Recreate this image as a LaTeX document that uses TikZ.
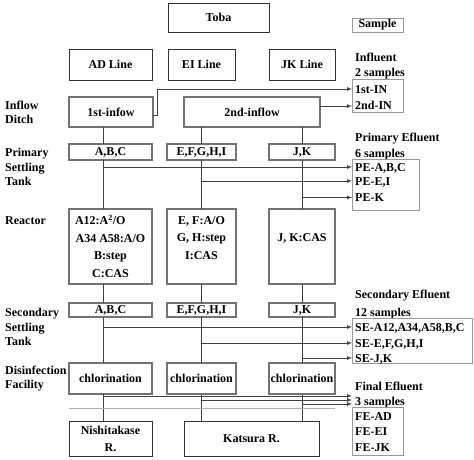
\documentclass[tikz,border=0pt]{standalone}
\usepackage{fontspec}
\setmainfont{Liberation Serif}
\begin{document}
\begin{tikzpicture}[x=1pt,y=-1pt,
  every node/.style={font=\bfseries\fontsize{12}{14.5}\selectfont},
  plain/.style={draw=black!80, line width=0.8pt, inner sep=1pt},
  heavy/.style={draw=black!85, double=black!55, double distance=1.4pt, line width=0.7pt, inner sep=1pt},
  smpbox/.style={draw=black!40, line width=0.6pt, inner sep=0pt},
  lbl/.style={anchor=west, align=left, inner sep=3pt},
  smp/.style={anchor=west, inner sep=3pt, text height=8pt, text depth=0pt},
  link/.style={draw=black!75, line width=0.7pt},
  feed/.style={link, -latex}]
 \useasboundingbox (0,0) rectangle (474,460);
 \coordinate (colA) at (103,0);
 \node[plain, minimum width=101pt, minimum height=29pt] (toba) at (218.5,17.5) {Toba};
 \node[smpbox, minimum width=51pt, minimum height=14pt] (sample) at (377.5,25) {Sample};
 \node[plain, minimum width=83pt, minimum height=31pt] (adln) at (110.5,64.5) {AD Line};
 \node[plain, minimum width=67pt, minimum height=31pt] (eiln) at (201.5,64.5) {EI Line};
 \node[plain, minimum width=66pt, minimum height=31pt] (jkln) at (302,64.5) {JK Line};
 \node[heavy, minimum width=84pt, minimum height=30pt] (inflowA) at (111,112) {1st-infow};
 \node[heavy, minimum width=136pt, minimum height=30pt] (inflowB) at (252,112) {2nd-inflow};
 \node[heavy, minimum width=83pt, minimum height=16pt] (pstA) at (110.5,152) {A,B,C};
 \node[heavy, minimum width=69pt, minimum height=16pt] (pstE) at (201.5,152) {E,F,G,H,I};
 \node[heavy, minimum width=66pt, minimum height=16pt] (pstJ) at (302,152) {J,K};
 \node[heavy, minimum width=83pt, minimum height=75pt, align=center, font=\bfseries\fontsize{12}{17.5}\selectfont] (rxA) at (110.5,246.5)
   {\makebox[71pt][l]{A12:A\textsuperscript{2}/O}\\A34 A58:A/O\\B:step\\C:CAS};
 \node[heavy, minimum width=69pt, minimum height=75pt, align=center, font=\bfseries\fontsize{12}{17.5}\selectfont] (rxE) at (201.5,246.5)
   {E, F:A/O\\G, H:step\\I:CAS\\\mbox{}};
 \node[heavy, minimum width=66pt, minimum height=75pt, align=center, font=\bfseries\fontsize{12}{17.5}\selectfont] (rxJ) at (302,246.5)
   {J, K:CAS\\\mbox{}};
 \node[heavy, minimum width=83pt, minimum height=14pt] (sstA) at (110.5,310) {A,B,C};
 \node[heavy, minimum width=69pt, minimum height=14pt] (sstE) at (201.5,310) {E,F,G,H,I};
 \node[heavy, minimum width=66pt, minimum height=14pt] (sstJ) at (302,310) {J,K};
 \node[heavy, minimum width=83pt, minimum height=31pt] (chlA) at (110.5,378.5) {chlorination};
 \node[heavy, minimum width=69pt, minimum height=31pt] (chlE) at (201.5,378.5) {chlorination};
 \node[heavy, minimum width=66pt, minimum height=31pt] (chlJ) at (302,378.5) {chlorination};
 \node[plain, minimum width=83pt, minimum height=35pt, align=center, font=\bfseries\fontsize{12}{17}\selectfont] (nishi) at (110.5,438.5) {Nishitakase\\R.};
 \node[plain, minimum width=135pt, minimum height=35pt] (katsura) at (251.5,438.5) {Katsura R.};

 \node[lbl] (ditch) at (2,112.5) {Inflow\\Ditch};
 \node[lbl] (pst) at (2,167) {Primary\\Settling\\Tank};
 \node[lbl] (reactor) at (2,221) {Reactor};
 \node[lbl] (sst) at (2,327) {Secondary\\Settling\\Tank};
 \node[lbl] (disinf) at (2,378.5) {Disinfection\\Facility};

 \node[smp] (influent) at (352,58) {Influent};
 \node[smp] (influentn) at (352,73) {2 samples};
 \node[smpbox, minimum width=51pt, minimum height=33pt] (inbox) at (377.5,95.5) {};
 \node[smp] (inA) at (352,89) {1st-IN};
 \node[smp] (inB) at (352,106) {2nd-IN};
 \node[smp] (pehead) at (352,137) {Primary Efluent};
 \node[smp] (pen) at (352,153) {6 samples};
 \node[smpbox, minimum width=67pt, minimum height=51pt] (pebox) at (385.5,184.5) {};
 \node[smp] (peA) at (352,167) {PE-A,B,C};
 \node[smp] (peE) at (352,181) {PE-E,I};
 \node[smp] (peJ) at (352,197.5) {PE-K};
 \node[smp] (sehead) at (352,294) {Secondary Efluent};
 \node[smp] (sen) at (352,312) {12 samples};
 \node[smpbox, minimum width=120pt, minimum height=45pt] (sebox) at (412,340.5) {};
 \node[smp] (seA) at (352,327) {SE-A12,A34,A58,B,C};
 \node[smp] (seE) at (352,343) {SE-E,F,G,H,I};
 \node[smp] (seJ) at (352,358) {SE-J,K};
 \node[smp] (fehead) at (352,386) {Final Efluent};
 \node[smp] (fen) at (352,401) {3 samples};
 \node[smpbox, minimum width=51pt, minimum height=48pt] (febox) at (377.5,431) {};
 \node[smp] (feA) at (352,416) {FE-AD};
 \node[smp] (feE) at (352,431) {FE-EI};
 \node[smp] (feJ) at (352,447) {FE-JK};

 \draw[link] (colA |- inflowA.south) -- (colA |- pstA.north);
 \draw[link] (pstE.north |- inflowB.south) -- (pstE.north);
 \draw[link] (pstJ.north |- inflowB.south) -- (pstJ.north);
 \draw[link] (colA |- pstA.south) -- (colA |- rxA.north);
 \draw[link] (pstE.south) -- (rxE.north);
 \draw[link] (pstJ.south) -- (rxJ.north);
 \draw[link] (colA |- rxA.south) -- (colA |- sstA.north);
 \draw[link] (rxE.south) -- (sstE.north);
 \draw[link] (rxJ.south) -- (sstJ.north);
 \draw[link] (colA |- sstA.south) -- (colA |- chlA.north);
 \draw[link] (sstE.south) -- (chlE.north);
 \draw[link] (sstJ.south) -- (chlJ.north);
 \draw[link] (colA |- chlA.south) -- (colA |- nishi.north);
 \draw[link] (chlE.south) -- (chlE.south |- katsura.north);
 \draw[link] (chlJ.south) -- (chlJ.south |- katsura.north);

 \draw[feed] ([yshift=-3pt]inflowA.east) -- ++(4,0) |- (inA.west);
 \draw[feed] (inflowB.east |- inB.west) -- (inB.west);
 \draw[feed] (colA |- peA.west) -- (peA.west);
 \draw[feed] (pstE.south |- peE.west) -- (peE.west);
 \draw[feed] (pstJ.south |- peJ.west) -- (peJ.west);
 \draw[feed] (colA |- seA.west) -- (seA.west);
 \draw[feed] (sstE.south |- seE.west) -- (seE.west);
 \draw[feed] (sstJ.south |- seJ.west) -- (seJ.west);
 \coordinate (feTA) at ([yshift=5pt]fen.west);
 \coordinate (feTE) at ([yshift=1pt]fen.west);
 \coordinate (feTJ) at ([yshift=-3pt]fen.west);
 \draw[feed] (colA |- feTA) -- (feTA);
 \draw[feed] (chlE.south |- feTE) -- (feTE);
 \draw[feed] (chlJ.south |- feTJ) -- (feTJ);
 \draw[black!30, line width=1pt] ([yshift=-14pt]chlA.south west) -- ([yshift=-14pt]chlJ.south east);
\end{tikzpicture}
\end{document}
